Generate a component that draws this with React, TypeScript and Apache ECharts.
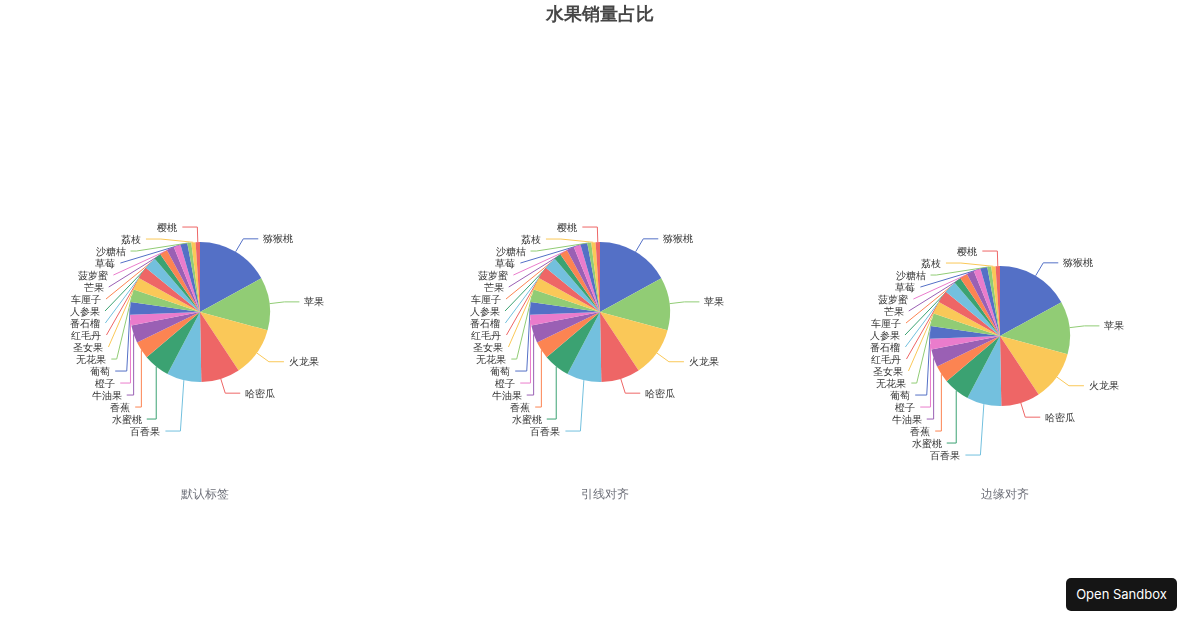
import { useEffect, useRef } from "react";
import * as echarts from "echarts";

const titleText = "水果销量占比";
const subTitles = ["默认标签", "引线对齐", "边缘对齐"];

const fruitNames = [
  "猕猴桃", "苹果", "火龙果", "哈密瓜", "百香果", "水蜜桃", "香蕉", "牛油果",
  "橙子", "葡萄", "无花果", "圣女果", "红毛丹", "番石榴", "人参果", "车厘子",
  "芒果", "菠萝蜜", "草莓", "沙糖桔", "荔枝", "樱桃",
];
const fruitValues = [
  170, 122, 115, 90, 80, 61, 40, 41, 25, 29, 29, 29,
  28, 29, 16, 18, 17, 16, 16, 9, 10, 10,
];

const palette = ["#5470c6", "#91cc75", "#fac858", "#ee6666", "#73c0de", "#3ba272", "#fc8452", "#9a60b4", "#ea7ccc"];

export default function App() {
  const ref = useRef<HTMLDivElement>(null);

  useEffect(() => {
    if (!ref.current) return;
    const chart = echarts.init(ref.current, null, { renderer: "svg" });
    const data = fruitNames.map((name, i) => ({ name, value: fruitValues[i] }));
    const centers = [
      ["50%", 312],
      ["50%", 312],
      ["50%", 336],
    ];
    chart.setOption({
      animation: false,
      color: palette,
      title: [
        {
          text: titleText,
          left: "center",
          top: 0,
          textStyle: { color: "#464646", fontSize: 18, fontWeight: "bold" },
        },
        ...subTitles.map((s, i) => ({
          subtext: s,
          left: `${16.67 + i * 33.33}%`,
          top: "75%",
          textAlign: "center",
          subtextStyle: { color: "#6e7079", fontSize: 12 },
        })),
      ],
      series: subTitles.map((_, i) => ({
        type: "pie",
        radius: 70,
        center: centers[i],
        left: `${i * 33.3333}%`,
        right: `${(2 - i) * 33.3333}%`,
        top: 0,
        bottom: 0,
        data,
        label: {
          position: "outer",
          color: "#333",
          fontSize: 10,
          alignTo: "none",
          bleedMargin: 5,
        },
        labelLine: { length: 15, length2: 15 },
        itemStyle: { borderWidth: 0 },
      })),
    });
    return () => chart.dispose();
  }, []);

  return (
    <>
      <div
        ref={ref}
        style={{ position: "fixed", left: 0, top: 0, width: 1200, height: 630 }}
      />
      <div
        style={{
          position: "fixed",
          left: 1066,
          top: 578,
          width: 111,
          height: 33,
          background: "#151515",
          color: "#fff",
          borderRadius: 5,
          fontFamily: "Inter, sans-serif",
          fontSize: 13,
          lineHeight: "33px",
          textAlign: "center",
        }}
      >
        Open Sandbox
      </div>
    </>
  );
}
